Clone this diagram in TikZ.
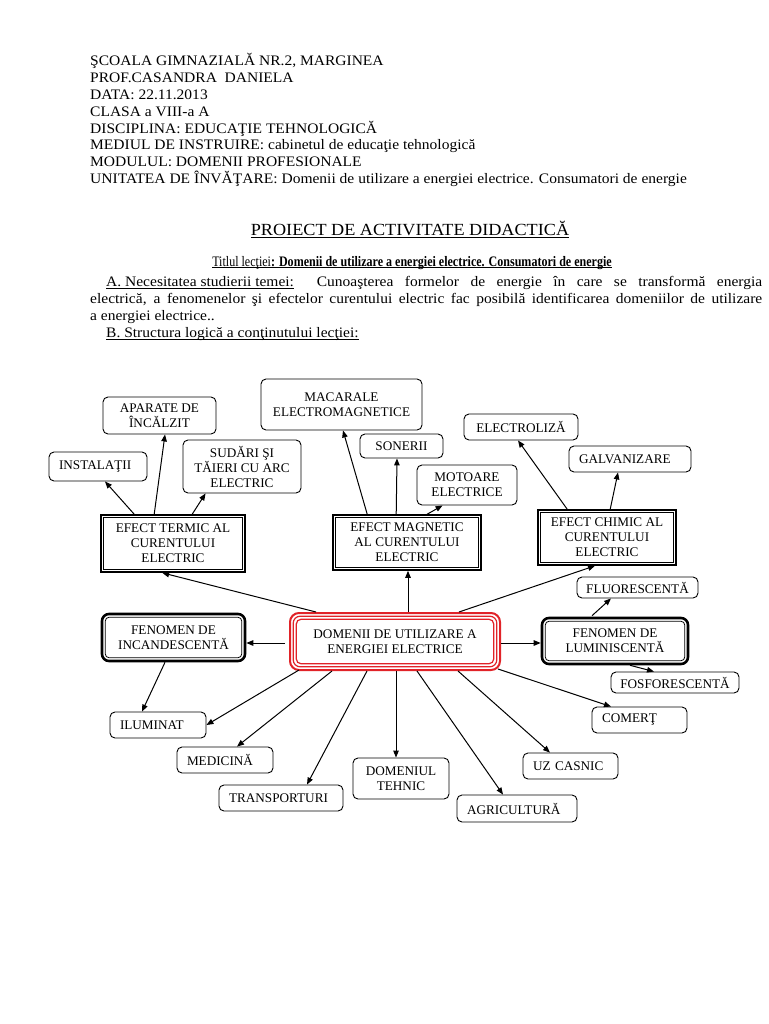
\documentclass[tikz,border=0pt]{standalone}
\usepackage{fontspec}
\setmainfont{Liberation Serif}
\newfontfamily\hdr{Liberation Serif}[FakeStretch=1.07]
\newfontfamily\hdrc{Liberation Serif}[FakeStretch=0.83]
\usetikzlibrary{arrows.meta}
\definecolor{domred}{RGB}{225,35,40}
\newcommand\hfnt{\hdr\fontsize{14.5pt}{16.7pt}\selectfont}
\newcommand\cfnt{\hdrc\fontsize{14.5pt}{16.7pt}\selectfont}
\newcommand\tfnt{\hdr\fontsize{17pt}{20pt}\selectfont}
\newcommand\dfnt{\fontsize{13.2pt}{15pt}\selectfont}
\newcommand\ulx[1]{\underline{\smash{#1}}}
\begin{document}
\begin{tikzpicture}[x=1pt,y=-1pt,
  txt/.style={inner sep=0pt, anchor=base west, font=\hfnt},
  leaf/.style={draw, rounded corners=5pt, line width=0.9pt, fill=white, font=\dfnt, align=center, inner xsep=3pt, inner ysep=1pt},
  lft/.style={text width=#1, align=left, inner xsep=10pt},
  efect/.style={draw, line width=1.6pt, fill=white, font=\dfnt, align=center, inner sep=1pt},
  fenom/.style={draw, line width=2.6pt, rounded corners=7pt, fill=white, font=\dfnt, align=center, inner sep=1pt},
  domb/.style={draw=domred, line width=2pt, rounded corners=9pt, fill=white, font=\dfnt, align=center, inner sep=1pt},
  arr/.style={-{Triangle[length=7pt,width=5.5pt]}, line width=1pt}]
\fill[white] (0,0) rectangle (768,1024);
\useasboundingbox (0,0) rectangle (768,1024);

% header
\node[txt] (h1) at (90,66) {ŞCOALA GIMNAZIALĂ NR.2, MARGINEA};
\node[txt] (h2) at (90,82.8) {PROF.CASANDRA\ \ DANIELA};
\node[txt] (h3) at (90,99.6) {DATA: 22.11.2013};
\node[txt] (h4) at (90,116.4) {CLASA a VIII-a A};
\node[txt] (h5) at (90,133.2) {DISCIPLINA: EDUCAŢIE TEHNOLOGICĂ};
\node[txt] (h6) at (90,150) {MEDIUL DE INSTRUIRE: cabinetul de educaţie tehnologică};
\node[txt] (h7) at (90,166.8) {MODULUL: DOMENII PROFESIONALE};
\node[txt] (h8) at (90,183.6) {UNITATEA DE ÎNVĂŢARE: Domenii de utilizare a energiei electrice. Consumatori de energie};

\node[inner sep=0pt, anchor=base, font=\tfnt] (title) at (410,236) {\ulx{PROIECT DE ACTIVITATE DIDACTICĂ}};
\node[inner sep=0pt, anchor=base, font=\cfnt] (titlul) at (412,266) {\ulx{Titlul lecţiei\textbf{: Domenii de utilizare a energiei electrice. Consumatori de energie}}};
\node[txt] (pA) at (106,286.5) {\makebox[656pt][s]{\ulx{A. Necesitatea studierii temei:}\ \ Cunoaşterea formelor de energie în care se transformă energia}};
\node[txt] (pA2) at (90,303.5) {\makebox[672pt][s]{electrică, a fenomenelor şi efectelor curentului electric fac posibilă identificarea domeniilor de utilizare}};
\node[txt] (pA3) at (90,320.5) {a energiei electrice..};
\node[txt] (pB) at (106,337.5) {\ulx{B. Structura logică a conţinutului lecţiei:}};

% diagram nodes
\node[leaf, minimum width=161pt, minimum height=51pt] (macar) at (341.5,404.5) {MACARALE\\ELECTROMAGNETICE};
\node[leaf, minimum width=113pt, minimum height=37pt] (apar) at (159.5,415.5) {APARATE DE\\ÎNCĂLZIT};
\node[leaf, lft=78pt, minimum height=29pt] (inst) at (98,466.5) {INSTALAŢII};
\node[leaf, minimum width=118pt, minimum height=53pt] (sud) at (242,466.5) {SUDĂRI ŞI\\TĂIERI CU ARC\\ELECTRIC};
\node[leaf, minimum width=83pt, minimum height=24pt] (son) at (401.5,446) {SONERII};
\node[leaf, minimum width=100pt, minimum height=40pt] (mot) at (467,485) {MOTOARE\\ELECTRICE};
\node[leaf, minimum width=114pt, minimum height=26pt] (electr) at (521,427) {ELECTROLIZĂ};
\node[leaf, lft=102pt, minimum height=26pt] (galv) at (630,459) {GALVANIZARE};

\node[efect, minimum width=144pt, minimum height=57pt] (termic) at (173,543.5) {EFECT TERMIC AL\\CURENTULUI\\ELECTRIC};
\node[efect, minimum width=148pt, minimum height=55pt] (magnetic) at (407,542.5) {EFECT MAGNETIC\\AL CURENTULUI\\ELECTRIC};
\node[efect, minimum width=138pt, minimum height=55pt] (chimic) at (607,537.5) {EFECT CHIMIC AL\\CURENTULUI\\ELECTRIC};

\node[leaf, minimum width=121pt, minimum height=21pt] (fluor) at (637.5,587.5) {FLUORESCENTĂ};
\node[fenom, minimum width=143pt, minimum height=47pt] (incand) at (173.5,637.5) {FENOMEN DE\\INCANDESCENTĂ};
\node[domb, minimum width=210pt, minimum height=57pt] (dom) at (395,641.5) {DOMENII DE UTILIZARE A\\ENERGIEI ELECTRICE};
\node[fenom, minimum width=146pt, minimum height=46pt] (lumin) at (615,641) {FENOMEN DE\\LUMINISCENTĂ};
\node[leaf, minimum width=128pt, minimum height=21pt] (fosf) at (675,682.5) {FOSFORESCENTĂ};

\node[leaf, lft=76pt, minimum height=26pt] (ilum) at (158,725) {ILUMINAT};
\node[leaf, lft=75pt, minimum height=26pt] (comert) at (639.5,720) {COMERŢ};
\node[leaf, lft=76pt, minimum height=26pt] (medic) at (225,760) {MEDICINĂ};
\node[leaf, lft=75pt, minimum height=26pt] (uz) at (570.5,766) {UZ CASNIC};
\node[leaf, minimum width=96pt, minimum height=41pt] (tehnic) at (401,778.5) {DOMENIUL\\TEHNIC};
\node[leaf, lft=104pt, minimum height=26pt] (transp) at (281,798) {TRANSPORTURI};
\node[leaf, lft=100pt, minimum height=27pt] (agric) at (517,808.5) {AGRICULTURĂ};

% inner border lines
\foreach \n in {termic,magnetic,chimic}
  \draw[line width=0.7pt] ([shift={(3.5,3.5)}]\n.north west) rectangle ([shift={(-3.5,-3.5)}]\n.south east);
\foreach \n in {incand,lumin}
  \draw[line width=0.8pt, rounded corners=4pt] ([shift={(4.5,4.5)}]\n.north west) rectangle ([shift={(-4.5,-4.5)}]\n.south east);
\draw[domred, line width=1.2pt, rounded corners=7pt] ([shift={(4.2,4.2)}]dom.north west) rectangle ([shift={(-4.2,-4.2)}]dom.south east);
\draw[domred, line width=1.2pt, rounded corners=5pt] ([shift={(7.2,7.2)}]dom.north west) rectangle ([shift={(-7.2,-7.2)}]dom.south east);

% connectors from the centre
\draw[arr] ([shift={(27,0)}]dom.north west) -- ([shift={(62,0)}]termic.south west);
\draw[arr] ([shift={(13,0)}]dom.north) -- ([shift={(1,0)}]magnetic.south);
\draw[arr] ([shift={(-42,0)}]dom.north east) -- ([shift={(-12,0)}]chimic.south);
\draw[arr] ([shift={(-4,1.5)}]dom.west) -- ([shift={(0,5.5)}]incand.east);
\draw[arr] ([shift={(0,1.5)}]dom.east) -- ([shift={(0,2)}]lumin.west);
\draw[arr] ([shift={(10,-1)}]dom.south west) -- (ilum.east);
\draw[arr] ([shift={(43,0)}]dom.south west) -- ([shift={(12,0)}]medic.north);
\draw[arr] ([shift={(78,0)}]dom.south west) -- ([shift={(26,0)}]transp.north);
\draw[arr] ([shift={(1,0)}]dom.south) -- ([shift={(-5,0)}]tehnic.north);
\draw[arr] ([shift={(22,0)}]dom.south) -- ([shift={(-14,0)}]agric.north);
\draw[arr] ([shift={(-43,0)}]dom.south east) -- ([shift={(-20.5,0)}]uz.north);
\draw[arr] ([shift={(-3,-2)}]dom.south east) -- ([shift={(-28.5,0)}]comert.north);
\draw[arr] ([shift={(-8.5,0)}]incand.south) -- ([shift={(-16,0)}]ilum.north);
\draw[arr] ([shift={(-23,-1)}]lumin.north) -- ([shift={(-26.5,0)}]fluor.south);
\draw[arr] ([shift={(15,0)}]lumin.south) -- ([shift={(-21,0)}]fosf.north);
% connectors from the effects
\draw[arr] ([shift={(34,0)}]termic.north west) -- ([shift={(7,0)}]inst.south);
\draw[arr] ([shift={(54,0)}]termic.north west) -- ([shift={(5.5,0)}]apar.south);
\draw[arr] ([shift={(92,0)}]termic.north west) -- ([shift={(23,0)}]sud.south west);
\draw[arr] ([shift={(35,0)}]magnetic.north west) -- ([shift={(1.5,0)}]macar.south);
\draw[arr] ([shift={(64,0)}]magnetic.north west) -- ([shift={(-4.5,0)}]son.south);
\draw[arr] ([shift={(95,0)}]magnetic.north west) -- ([shift={(26,0)}]mot.south west);
\draw[arr] ([shift={(30,0)}]chimic.north west) -- ([shift={(-3,0)}]electr.south);
\draw[arr] ([shift={(73,0)}]chimic.north west) -- ([shift={(-12,0)}]galv.south);
\end{tikzpicture}
\end{document}
